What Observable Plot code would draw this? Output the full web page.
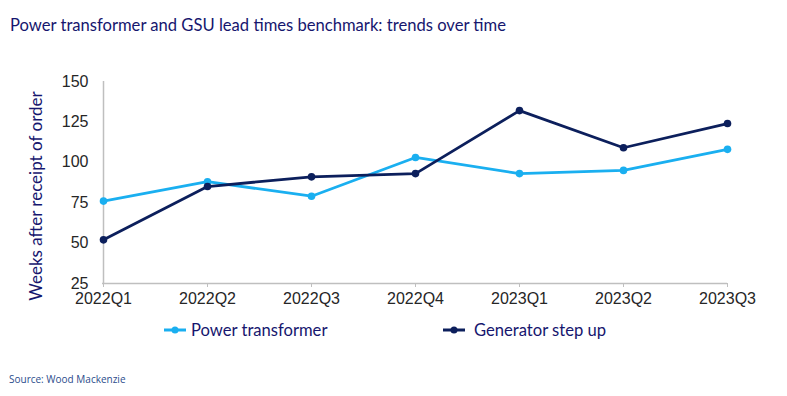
<!DOCTYPE html>
<html>
<head>
<meta charset="utf-8">
<script src="https://cdn.jsdelivr.net/npm/d3@7"></script>
<script src="https://cdn.jsdelivr.net/npm/@observablehq/plot@0.6"></script>
<style>
  html, body { margin: 0; padding: 0; background: #fff; }
  #wrap { position: relative; width: 787px; height: 396px; overflow: hidden; font-family: Lato, "Open Sans", sans-serif; }
  #title { position: absolute; left: 10px; top: 15px; font-size: 16.6px; color: #16166e; white-space: nowrap; }
  #chart { position: absolute; left: 0; top: 50px; }
  #chart svg, #chart svg text { font-family: "Liberation Sans", Arial, sans-serif !important; font-size: 16px !important; }
  #ylabel { position: absolute; left: 35px; top: 196px; transform: translate(-50%, -50%) rotate(-90deg); font-size: 17px; color: #16166e; white-space: nowrap; }
  .leg { position: absolute; top: 320px; font-size: 16.6px; color: #16166e; display: flex; align-items: center; white-space: nowrap; }
  .leg svg { margin-right: 4px; }
  #source { position: absolute; left: 9px; top: 372px; font-size: 10px; color: #2c4c8c; font-family: "Open Sans", sans-serif; }
</style>
</head>
<body>
<div id="wrap">
  <div id="title">Power transformer and GSU lead times benchmark: trends over time</div>
  <div id="chart"></div>
  <div id="ylabel">Weeks after receipt of order</div>
  <div class="leg" id="leg1" style="left:163px"></div>
  <div class="leg" id="leg2" style="left:442px"></div>
  <div id="source">Source: Wood Mackenzie</div>
</div>
<script>
const quarters = ["2022Q1", "2022Q2", "2022Q3", "2022Q4", "2023Q1", "2023Q2", "2023Q3"];
const powerTransformer = [76, 88, 79, 103, 93, 95, 108];
const generatorStepUp = [52, 85, 91, 93, 132, 109, 124];
const yTicks = [25, 50, 75, 100, 125, 150];
const seriesNames = ["Power transformer", "Generator step up"];
const seriesColors = ["#1aaff0", "#0c1f5c"];

const rows = [];
quarters.forEach((q, i) => {
  rows.push({quarter: q, value: powerTransformer[i], series: seriesNames[0]});
  rows.push({quarter: q, value: generatorStepUp[i], series: seriesNames[1]});
});

const axisColor = "#bfbfbf";
const plot = Plot.plot({
  width: 787,
  height: 260,
  marginLeft: 102,
  marginRight: 60,
  marginTop: 31,
  marginBottom: 27,
  style: { fontFamily: "'Liberation Sans', Arial, sans-serif", fontSize: "16px", color: "#262626", background: "transparent" },
  x: { type: "point", domain: quarters, padding: 0 },
  y: { domain: [25, 150], ticks: yTicks },
  color: { domain: seriesNames, range: seriesColors },
  marks: [
    Plot.ruleY([25], { stroke: axisColor, strokeWidth: 1.5 }),
    Plot.ruleX([quarters[0]], { y1: 25, y2: 150, stroke: axisColor, strokeWidth: 1.5 }),
    Plot.axisY({ ticks: yTicks, tickSize: 0, tickPadding: 14, label: null, fill: "#262626" }),
    Plot.axisX({ tickSize: 4, tickPadding: 5, label: null, stroke: axisColor, fill: "#262626" }),
    Plot.line(rows, { x: "quarter", y: "value", z: "series", stroke: "series", strokeWidth: 2.8 }),
    Plot.dot(rows, { x: "quarter", y: "value", fill: "series", r: 3.8 })
  ]
});
document.getElementById("chart").appendChild(plot);

function swatch(color) {
  return `<svg width="24" height="10"><line x1="1" y1="5" x2="23" y2="5" stroke="${color}" stroke-width="3"/><circle cx="12" cy="5" r="3.5" fill="${color}"/></svg>`;
}
document.getElementById("leg1").innerHTML = swatch(seriesColors[0]) + `<span>${seriesNames[0]}</span>`;
document.getElementById("leg2").innerHTML = swatch(seriesColors[1]) + `<span style="margin-left:4px">${seriesNames[1]}</span>`;
</script>
</body>
</html>
